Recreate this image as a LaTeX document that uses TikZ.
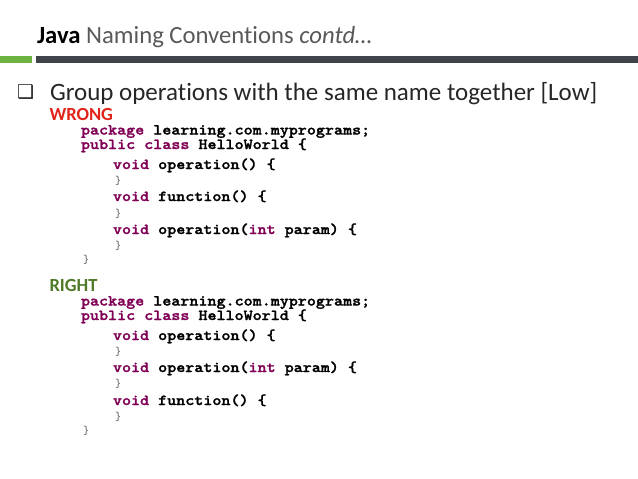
\documentclass[tikz,border=0pt]{standalone}
\usepackage{fontspec}
\setmainfont{Carlito}[Ligatures={NoCommon}]
\newfontfamily\codefont{lmmonolt10-bold.otf}[FakeBold=1.6,FakeStretch=1.125]
\newfontfamily\bracefont{Liberation Mono}
\newfontfamily\symfont{DejaVu Sans}
\definecolor{kw}{HTML}{7F0055}
\definecolor{titlegray}{HTML}{595959}
\definecolor{bodytext}{HTML}{262626}
\definecolor{wrongred}{HTML}{E2231A}
\definecolor{rightgreen}{HTML}{4F7A28}
\definecolor{bargreen}{HTML}{6DB33F}
\definecolor{bardark}{HTML}{3E4449}
\definecolor{bracegray}{HTML}{555555}
\tikzset{
  txt/.style={anchor=base west, inner sep=0pt, outer sep=0pt},
  codeline/.style={txt, font=\codefont\fontsize{15.3}{15.3}\selectfont, text=black},
  braceline/.style={txt, font=\bracefont\fontsize{10}{10}\selectfont, text=bracegray},
  lbl/.style={txt, font=\bfseries\fontsize{18.5}{18.5}\selectfont},
}
\newcommand{\kwd}[1]{\textcolor{kw}{#1}}
\begin{document}
\begin{tikzpicture}[x=1pt,y=-1pt]
\useasboundingbox (0,0) rectangle (638,479);
% title
\node[txt, font=\fontsize{24.7}{24.7}\selectfont] (title) at (37,43)
  {\textbf{Java} \textcolor{titlegray}{Naming Conventions \textit{contd…}}};
% bar
\fill[bargreen] (0,56) rectangle (32,62.5);
\fill[bardark] (36,56) rectangle (638,62.5);
% bullet
\node[txt, font=\symfont\fontsize{19}{19}\selectfont, text=bodytext] (bul) at (17,98) {❑};
\node[txt, font=\fontsize{25}{25}\selectfont, text=bodytext] (head) at (50,100)
  {Group operations with the same name together [Low]};
% WRONG
\node[lbl, text=wrongred] (wrong) at (49.5,120) {WRONG};
\node[codeline] (w1) at (81,134.5) {\kwd{package} learning.com.myprograms;};
\node[codeline] (w2) at (81,149) {\kwd{public} \kwd{class} HelloWorld \{};
\node[codeline] (w3) at (113,169) {\kwd{void} operation() \{};
\node[braceline] (w4) at (115,183) {\}};
\node[codeline] (w5) at (113,201) {\kwd{void} function() \{};
\node[braceline] (w6) at (115,216) {\}};
\node[codeline] (w7) at (113,234) {\kwd{void} operation(\kwd{int} param) \{};
\node[braceline] (w8) at (115,248) {\}};
\node[braceline] (w9) at (83,262) {\}};
% RIGHT
\node[lbl, text=rightgreen] (right) at (49.5,291) {RIGHT};
\node[codeline] (r1) at (81,305.5) {\kwd{package} learning.com.myprograms;};
\node[codeline] (r2) at (81,320) {\kwd{public} \kwd{class} HelloWorld \{};
\node[codeline] (r3) at (113,340) {\kwd{void} operation() \{};
\node[braceline] (r4) at (115,354) {\}};
\node[codeline] (r5) at (113,372) {\kwd{void} operation(\kwd{int} param) \{};
\node[braceline] (r6) at (115,386) {\}};
\node[codeline] (r7) at (113,405) {\kwd{void} function() \{};
\node[braceline] (r8) at (115,419) {\}};
\node[braceline] (r9) at (83,433) {\}};
\end{tikzpicture}
\end{document}
